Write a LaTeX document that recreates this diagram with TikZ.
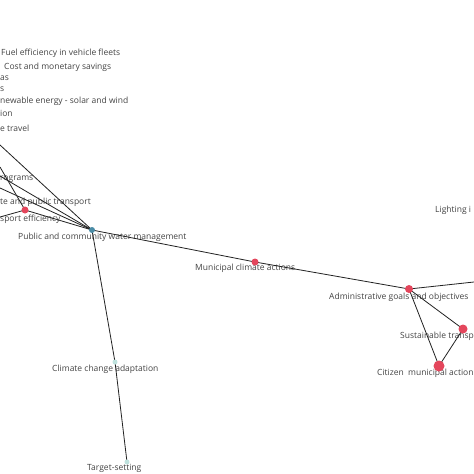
\documentclass[tikz,border=0pt]{standalone}
\usepackage{fontspec}
\setmainfont{Open Sans}
\definecolor{nodered}{HTML}{E4465C}
\definecolor{nodeblue}{HTML}{4A8CA6}
\definecolor{nodecyan}{HTML}{BFE2DE}
\definecolor{labelgray}{HTML}{444444}
\definecolor{edgegray}{HTML}{222222}
\begin{document}
\begin{tikzpicture}[x=1pt,y=-1pt,
  lbl/.style={anchor=west,inner sep=0pt,font=\fontsize{8.5}{9}\selectfont,text=labelgray},
  edge/.style={draw=edgegray,line width=0.8pt},
  dot/.style={circle,inner sep=0pt,minimum size=#1},
  rdot/.style={dot=#1,fill=nodered},
  bdot/.style={dot=#1,fill=nodeblue},
  cdot/.style={dot=#1,fill=nodecyan}]
\useasboundingbox (0,0) rectangle (474,474);
\clip (0,0) rectangle (474,474);
\fill[white] (0,0) rectangle (474,474);
% labels
\node[lbl] (lfuel) at (1,53) {Fuel efficiency in vehicle fleets};
\node[lbl] (lcost) at (4,67) {Cost and monetary savings};
\node[lbl] (las) at (0,78) {as};
\node[lbl] (ls) at (0,89) {s};
\node[lbl] (lren) at (0,101) {newable energy - solar and wind};
\node[lbl] (lion) at (0,113) {ion};
\node[lbl] (ltrav) at (0,128) {e travel};
\node[lbl] (lprog) at (0,179) {rograms};
\node[lbl] (lpub) at (0,202) {te and public transport};
\node[lbl] (lspe) at (0,219) {sport efficiency};
\node[lbl] (lwat) at (18,237) {Public and community water management};
\node[lbl] (lmun) at (195,268) {Municipal climate actions};
\node[lbl] (ladm) at (329,297) {Administrative goals and objectives};
\node[lbl] (llig) at (435,210) {Lighting i};
\node[lbl] (lsus) at (400,336) {Sustainable transp};
\node[lbl] (lcit) at (377,373) {Citizen\ \ municipal action};
\node[lbl] (lada) at (52,369) {Climate change adaptation};
\node[lbl] (ltar) at (87,468) {Target-setting};
% free ends
\coordinate (e1) at (0,145);
\coordinate (e2) at (0,176);
\coordinate (e3) at (0,188);
\coordinate (e4) at (0,167);
\coordinate (e5) at (0,217);
\coordinate (e6) at (474,282);
% node positions
\coordinate (pred) at (25,210);
\coordinate (pblue) at (92,230);
\coordinate (pmun) at (255,262);
\coordinate (padm) at (409,289);
\coordinate (psus) at (463,329);
\coordinate (pcit) at (439,366);
\coordinate (pada) at (115,362);
\coordinate (ptar) at (127,462);
% edges
\draw[edge] (e1) -- (pblue);
\draw[edge] (e2) -- (pblue);
\draw[edge] (e3) -- (pblue);
\draw[edge] (e4) -- (pred);
\draw[edge] (e5) -- (pred);
\draw[edge] (pred) -- (pblue);
\draw[edge] (pblue) -- (pmun) -- (padm);
\draw[edge] (padm) -- (e6);
\draw[edge] (padm) -- (psus) -- (pcit) -- (padm);
\draw[edge] (pblue) -- (pada) -- (ptar);
% nodes
\node[rdot=7pt] (red) at (pred) {};
\node[bdot=6pt] (blue) at (pblue) {};
\node[rdot=7pt] (mun) at (pmun) {};
\node[rdot=8pt] (adm) at (padm) {};
\node[rdot=9pt] (sus) at (psus) {};
\node[rdot=11pt] (cit) at (pcit) {};
\node[cdot=5pt] (ada) at (pada) {};
\node[cdot=5pt] (tar) at (ptar) {};
\end{tikzpicture}
\end{document}
